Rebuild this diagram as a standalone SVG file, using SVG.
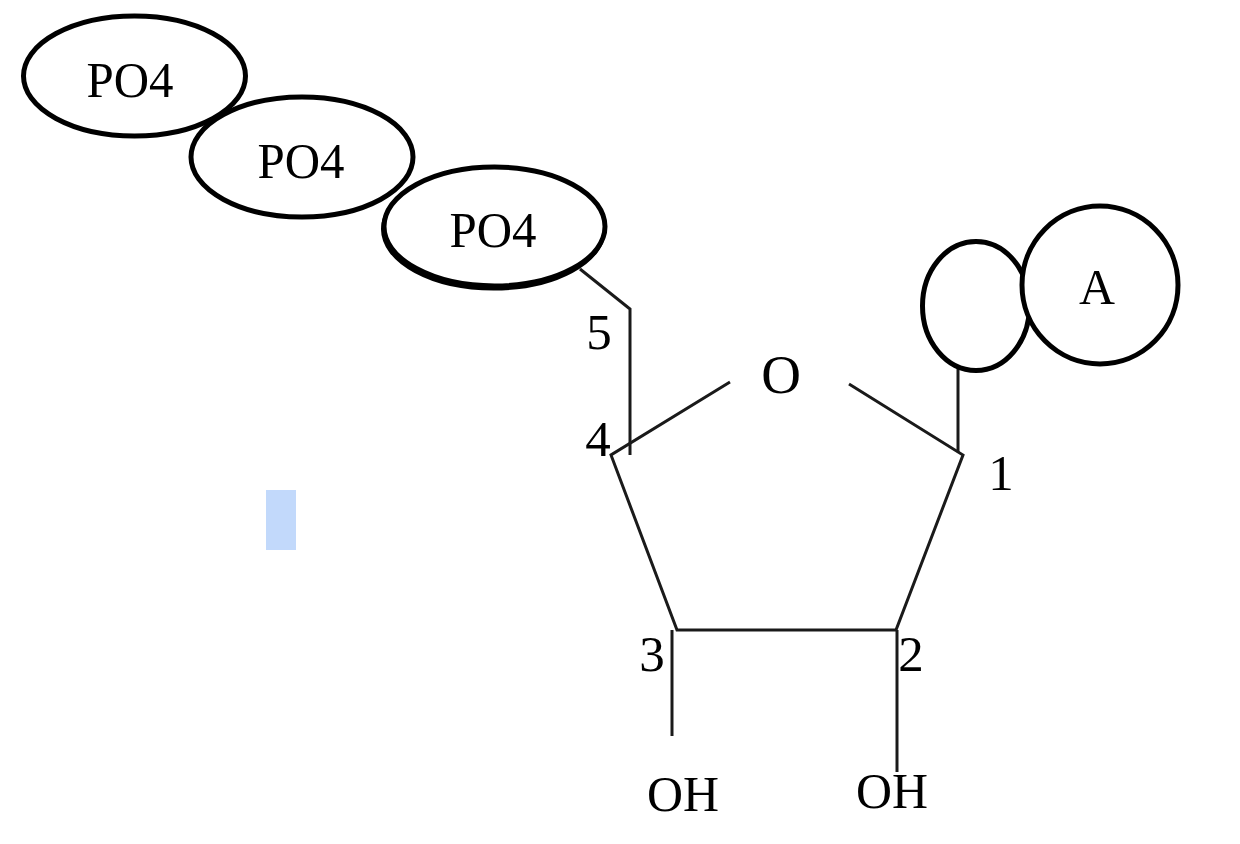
<svg xmlns="http://www.w3.org/2000/svg" width="1240" height="844" viewBox="0 0 1240 844">
<style>
.t{font-family:"Liberation Serif","Times New Roman",serif;font-size:51px;fill:#000;text-anchor:middle}
.e{fill:#fff;stroke:#000;stroke-width:5}
.l{fill:none;stroke:#1a1a1a;stroke-width:3}
</style>
<rect width="1240" height="844" fill="#fff"/>
<rect id="highlight" x="266" y="490" width="30" height="60" fill="#c2d9fb"/>
<g id="connectors">
<path class="l" d="M580 269L630 309V455"/>
<path class="l" d="M730 382L611 455L677 630H896L963 455L849 384"/>
<path class="l" d="M958 368V452"/>
<path class="l" d="M672 630V736"/>
<path class="l" d="M897 630V772"/>
</g>
<g id="po4-1"><ellipse class="e" cx="134.500" cy="76" rx="111" ry="60"/><text class="t" x="130" y="97" textLength="87" lengthAdjust="spacingAndGlyphs">PO4</text></g>
<g id="po4-2"><ellipse class="e" cx="302" cy="157" rx="111" ry="60"/><text class="t" x="301" y="178" textLength="87" lengthAdjust="spacingAndGlyphs">PO4</text></g>
<g id="po4-3"><ellipse class="e" cx="493.500" cy="229" rx="110" ry="59"/><ellipse class="e" cx="494.500" cy="226.500" rx="110.500" ry="59.500"/><text class="t" x="493" y="247" textLength="87" lengthAdjust="spacingAndGlyphs">PO4</text></g>
<g id="sugar"><ellipse class="e" cx="976" cy="306" rx="53.500" ry="64.500"/></g>
<g id="adenine"><ellipse class="e" cx="1100" cy="285" rx="78" ry="79"/><text class="t" x="1097" y="304" textLength="36" lengthAdjust="spacingAndGlyphs">A</text></g>
<g id="labels">
<text class="t" x="781" y="393" style="font-size:55px">O</text>
<text class="t" x="599" y="349">5</text>
<text class="t" x="598" y="456">4</text>
<text class="t" x="1001" y="490">1</text>
<text class="t" x="652" y="671">3</text>
<text class="t" x="911" y="671">2</text>
<text class="t" x="683" y="811" textLength="72" lengthAdjust="spacingAndGlyphs">OH</text>
<text class="t" x="892" y="808" textLength="72" lengthAdjust="spacingAndGlyphs">OH</text>
</g>
</svg>
